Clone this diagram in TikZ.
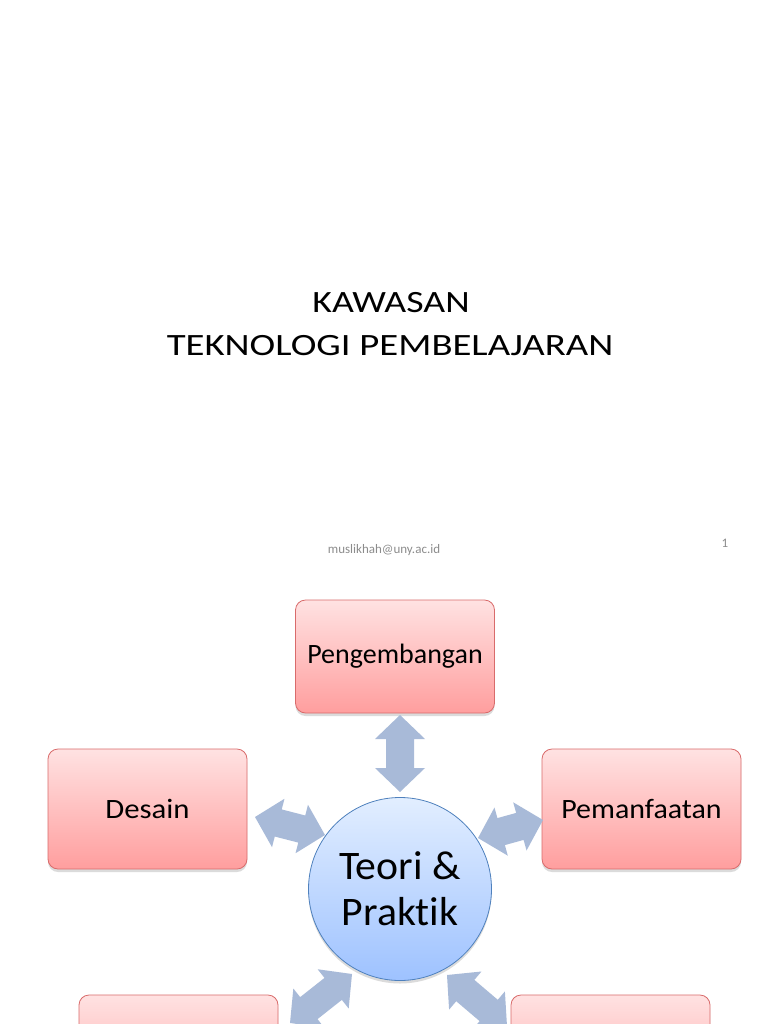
\documentclass[tikz,border=0pt]{standalone}
\usepackage{fontspec}
\setmainfont{Carlito}[Ligatures=NoCommon]
\usetikzlibrary{calc,shadows}
\definecolor{boxtop}{HTML}{FFE2E2}
\definecolor{boxbot}{HTML}{FF9E9E}
\definecolor{boxline}{HTML}{D96B6B}
\definecolor{circtop}{HTML}{E2EEFF}
\definecolor{circbot}{HTML}{9EC2FF}
\definecolor{circline}{HTML}{4F81BD}
\definecolor{arrowc}{HTML}{A8BAD8}
\definecolor{footgray}{HTML}{8C8C8C}
\tikzset{
  boxnode/.style={draw=boxline, line width=0.8pt, rounded corners=10pt,
    top color=boxtop, bottom color=boxbot, minimum width=199pt,
    minimum height=120pt, inner sep=0pt, font=\fontsize{28}{33}\selectfont,
    drop shadow={opacity=0.28, shadow xshift=0pt, shadow yshift=-3pt}},
  hubnode/.style={circle, draw=circline, line width=0.8pt, top color=circtop,
    bottom color=circbot, minimum size=183pt, inner sep=0pt, align=center,
    font=\fontsize{40.5}{46}\selectfont,
    drop shadow={opacity=0.28, shadow xshift=0pt, shadow yshift=-3pt}},
  titletext/.style={anchor=base, inner sep=0pt, font=\fontsize{31}{37}\selectfont},
  foottext/.style={anchor=base, inner sep=0pt, text=footgray, font=\fontsize{13}{15}\selectfont}
}
\newcommand\wide[2]{\scalebox{#1}[1]{#2}}
\newcommand\blockarrow[2]{%
  \fill[arrowc] let \p1=(#1), \p2=(#2),
    \n1={atan2(\y2-\y1,\x2-\x1)}, \n2={veclen(\x2-\x1,\y2-\y1)} in
    [shift={(\p1)}, rotate=\n1]
    (0pt,0pt) -- (24pt,25pt) -- (24pt,14pt) -- ({\n2*1pt-24pt},14pt)
    -- ({\n2*1pt-24pt},25pt) -- ({\n2*1pt},0pt) -- ({\n2*1pt-24pt},-25pt)
    -- ({\n2*1pt-24pt},-14pt) -- (24pt,-14pt) -- (24pt,-25pt) -- cycle;}
\begin{document}
\begin{tikzpicture}[x=1pt,y=-1pt]
  \useasboundingbox (0,0) rectangle (768,1024);
  \clip (0,0) rectangle (768,1024);
  \fill[white] (0,0) rectangle (768,1024);
  % title slide
  \node[titletext] (t1) at (391,312) {\wide{1.22}{KAWASAN}};
  \node[titletext] (t2) at (390,355) {\wide{1.25}{TEKNOLOGI PEMBELAJARAN}};
  \node[foottext] (mail) at (384,553) {muslikhah@uny.ac.id};
  \node[foottext] (pg) at (725,547) {1};
  % diagram
  \node[boxnode, minimum height=113pt] (peng) at (395,656.5) {Pengembangan};
  \node[boxnode] (des) at (147.5,809) {\wide{1.1}{Desain}};
  \node[boxnode] (pem) at (641.5,809) {\wide{1.07}{Pemanfaatan}};
  \node[boxnode] (bl) at (178.5,1055) {};
  \node[boxnode] (br) at (610.5,1055) {};
  \node[hubnode] (hub) at (400,889) {\wide{1.03}{Teori \&}\\\wide{1.03}{Praktik}};
  % arrow ends
  \coordinate (a1) at (400,715);  \coordinate (b1) at (400,792);
  \coordinate (a2) at (255,817);  \coordinate (b2) at (325,835);
  \coordinate (a3) at (543,820);  \coordinate (b3) at (478,838);
  \coordinate (a4) at (352,974);  \coordinate (b4) at (290,1023);
  \coordinate (a5) at (447,975);  \coordinate (b5) at (507,1026);
  \blockarrow{a1}{b1}
  \blockarrow{a2}{b2}
  \blockarrow{a3}{b3}
  \blockarrow{a4}{b4}
  \blockarrow{a5}{b5}
\end{tikzpicture}
\end{document}
